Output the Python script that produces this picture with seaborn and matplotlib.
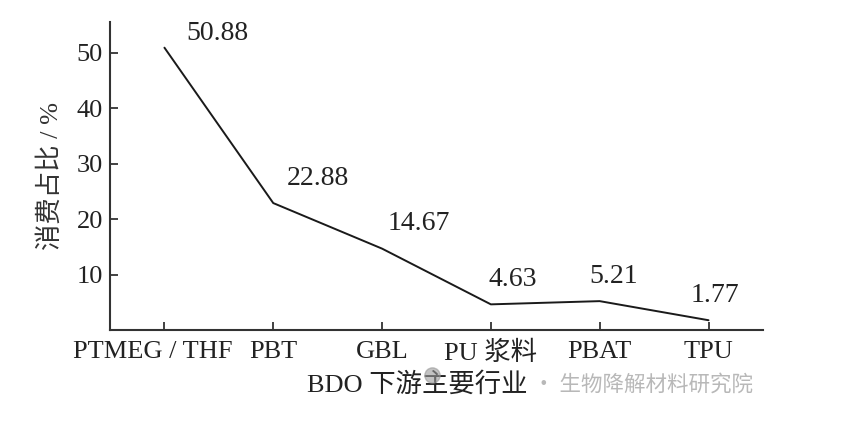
import matplotlib
matplotlib.use("Agg")
import matplotlib.pyplot as plt
import matplotlib.transforms as mtransforms
import seaborn as sns
import pandas as pd

# data
industries = ["PTMEG / THF", "PBT", "GBL", "PU 浆料", "PBAT", "TPU"]
shares = [50.88, 22.88, 14.67, 4.63, 5.21, 1.77]
share_labels = ["50.88", "22.88", "14.67", "4.63", "5.21", "1.77"]
y_ticks = [10, 20, 30, 40, 50]

sns.set_style("ticks")
plt.rcParams["font.family"] = ["Liberation Serif", "Noto Sans CJK SC", "DejaVu Sans"]

df = pd.DataFrame({"industry": industries, "share": shares})

fig = plt.figure(figsize=(8.49, 4.32), dpi=100)
ax = fig.add_axes([0.1296, 0.236, 0.769, 0.713])

sns.lineplot(data=df, x="industry", y="share", ax=ax, color="#1a1a1a",
             linewidth=1.4, sort=False)

# value labels sit up and to the right, slightly drifting left along the axis
for i, (val, lab) in enumerate(zip(shares, share_labels)):
    ax.text(0.2 + 0.927 * i, min(val + 4.5, 53.4), lab, fontsize=20,
            ha="left", va="center", color="#222222")

ax.set_xlim(-0.5, 5.5)
ax.set_ylim(0, 55.5)
ax.set_yticks(y_ticks)
ax.set_xticks(range(len(industries)))
ax.set_xticklabels(industries)
ax.tick_params(direction="in", length=6, width=1.3, labelsize=19,
               colors="#333333", labelcolor="#222222")
ax.tick_params(axis="x", pad=8)
ax.tick_params(axis="y", pad=5)

# the long first label is nudged left in the original
first = ax.xaxis.get_major_ticks()[0].label1
first.set_transform(first.get_transform()
                    + mtransforms.ScaledTranslation(-0.12, 0, fig.dpi_scale_trans))

for side in ["top", "right"]:
    ax.spines[side].set_visible(False)
for side in ["left", "bottom"]:
    ax.spines[side].set_linewidth(1.5)
    ax.spines[side].set_color("#333333")

ax.set_xlabel("BDO 下游主要行业", fontsize=19, color="#222222")
ax.xaxis.set_label_coords(0.47, -0.135)
ax.set_ylabel("消费占比 / %", fontsize=19, color="#333333", labelpad=10)

# watermark
fig.text(0.628, 0.109, "· 生物降解材料研究院", fontsize=15.5, color="#b8b8b8",
         ha="left", va="center", family=["Noto Sans CJK SC", "DejaVu Sans"])
fig.lines.append(plt.Line2D([432 / 849], [1 - 375 / 432], transform=fig.transFigure,
                            marker="o", markersize=11, color="#9a9a9a", alpha=0.6,
                            linestyle="none"))

fig.savefig("out.png", dpi=100)
